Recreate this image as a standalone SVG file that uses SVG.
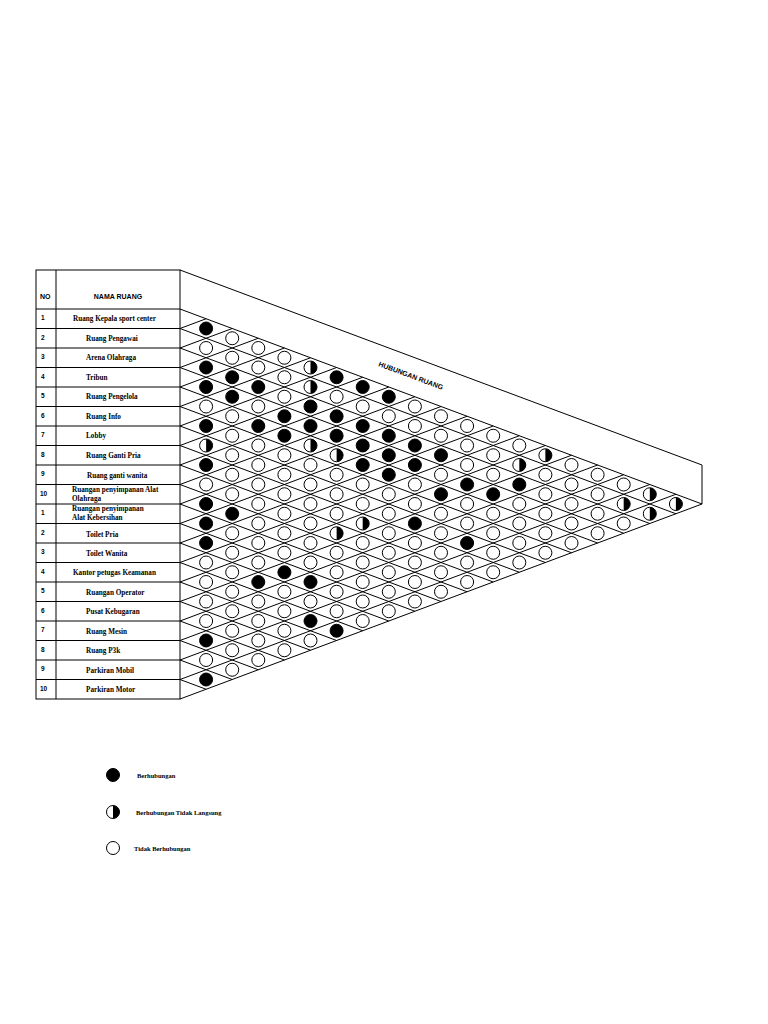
<svg xmlns="http://www.w3.org/2000/svg" xmlns:xlink="http://www.w3.org/1999/xlink" width="768" height="1024" viewBox="0 0 768 1024">
<style>
.ln{stroke:#000;stroke-width:1;fill:none}
.nm{font-family:"Liberation Serif",serif;font-weight:bold;font-size:7.2px}
.no{font-family:"Liberation Sans",sans-serif;font-weight:bold;font-size:6.5px}
.hd{font-family:"Liberation Sans",sans-serif;font-weight:bold;font-size:7px}
</style>
<defs>
<circle id="b" r="6.5" fill="#000" stroke="#000" stroke-width="1"/>
<circle id="w" r="6.5" fill="#fff" stroke="#000" stroke-width="1"/>
<g id="h"><circle r="6.5" fill="#fff" stroke="#000" stroke-width="1"/><path d="M0,-6.5 A6.5,6.5 0 0,1 0,6.5 Z" fill="#000"/></g>
</defs>
<rect width="768" height="1024" fill="#fff"/>
<g id="table">
<rect x="36" y="270" width="144" height="429" class="ln"/>
<line x1="56" y1="270" x2="56" y2="699" class="ln"/>
<path class="ln" d="M36,309H180M36,328.5H180M36,348H180M36,367.5H180M36,387H180M36,406.5H180M36,426H180M36,445.5H180M36,465H180M36,484.5H180M36,504H180M36,523.5H180M36,543H180M36,562.5H180M36,582H180M36,601.5H180M36,621H180M36,640.5H180M36,660H180M36,679.5H180"/>
<text x="40" y="299" class="hd">NO</text>
<text x="118" y="299" class="hd" text-anchor="middle">NAMA RUANG</text>
<g class="no">
<text x="41" y="320">1</text><text x="41" y="339.5">2</text><text x="41" y="359">3</text><text x="41" y="378.5">4</text><text x="41" y="398">5</text><text x="41" y="417.5">6</text><text x="41" y="437">7</text><text x="41" y="456.5">8</text><text x="41" y="476">9</text><text x="40" y="495.5">10</text><text x="41" y="515">1</text><text x="41" y="534.5">2</text><text x="41" y="554">3</text><text x="41" y="573.5">4</text><text x="41" y="593">5</text><text x="41" y="612.5">6</text><text x="41" y="632">7</text><text x="41" y="651.5">8</text><text x="41" y="671">9</text><text x="40" y="690.5">10</text>
</g>
<g class="nm">
<text x="73" y="321">Ruang Kepala sport center</text>
<text x="86" y="340.5">Ruang Pengawai</text>
<text x="86" y="360">Arena Olahraga</text>
<text x="86" y="379.5">Tribun</text>
<text x="86" y="399">Ruang Pengelola</text>
<text x="86" y="418.5">Ruang Info</text>
<text x="86" y="438">Lobby</text>
<text x="86" y="458">Ruang Ganti Pria</text>
<text x="87" y="477.5">Ruang ganti wanita</text>
<text x="72" y="492">Ruangan penyimpanan Alat</text>
<text x="72" y="501">Olahraga</text>
<text x="72" y="511">Ruangan penyimpanan</text>
<text x="72" y="520">Alat Kebersihan</text>
<text x="86" y="537">Toilet Pria</text>
<text x="86" y="555.5">Toilet Wanita</text>
<text x="73" y="575">Kantor petugas Keamanan</text>
<text x="86" y="594.5">Ruangan Operator</text>
<text x="86" y="614">Pusat Kebugaran</text>
<text x="86" y="633.5">Ruang Mesin</text>
<text x="86" y="653">Ruang P3k</text>
<text x="86" y="672.5">Parkiran Mobil</text>
<text x="86" y="692">Parkiran Motor</text>
</g>
</g>
<g id="header">
<path class="ln" d="M180,270L702,465V504"/>
<text x="0" y="0" class="hd" text-anchor="middle" transform="translate(410,378) rotate(20.5)">HUBUNGAN RUANG</text>
</g>
<g id="grid" class="ln">
<path d="M180,309L702,504M180,328.5L675.9,513.75M180,348L649.8,523.5M180,367.5L623.7,533.25M180,387L597.6,543M180,406.5L571.5,552.75M180,426L545.4,562.5M180,445.5L519.3,572.25M180,465L493.2,582M180,484.5L467.1,591.75M180,504L441,601.5M180,523.5L414.9,611.25M180,543L388.8,621M180,562.5L362.7,630.75M180,582L336.6,640.5M180,601.5L310.5,650.25M180,621L284.4,660M180,640.5L258.3,669.75M180,660L232.2,679.5M180,679.5L206.1,689.25"/>
<path d="M180,328.5L206.1,318.75M180,348L232.2,328.5M180,367.5L258.3,338.25M180,387L284.4,348M180,406.5L310.5,357.75M180,426L336.6,367.5M180,445.5L362.7,377.25M180,465L388.8,387M180,484.5L414.9,396.75M180,504L441,406.5M180,523.5L467.1,416.25M180,543L493.2,426M180,562.5L519.3,435.75M180,582L545.4,445.5M180,601.5L571.5,455.25M180,621L597.6,465M180,640.5L623.7,474.75M180,660L649.8,484.5M180,679.5L675.9,494.25M180,699L702,504"/>
</g>
<g id="marks">
<g transform="translate(206.1,0)"><use href="#b" y="328.5"/><use href="#w" y="348"/><use href="#b" y="367.5"/><use href="#b" y="387"/><use href="#w" y="406.5"/><use href="#b" y="426"/><use href="#h" y="445.5"/><use href="#b" y="465"/><use href="#w" y="484.5"/><use href="#b" y="504"/><use href="#b" y="523.5"/><use href="#b" y="543"/><use href="#w" y="562.5"/><use href="#w" y="582"/><use href="#w" y="601.5"/><use href="#w" y="621"/><use href="#b" y="640.5"/><use href="#w" y="660"/><use href="#b" y="679.5"/></g>
<g transform="translate(232.2,0)"><use href="#w" y="338.25"/><use href="#w" y="357.75"/><use href="#b" y="377.25"/><use href="#b" y="396.75"/><use href="#w" y="416.25"/><use href="#w" y="435.75"/><use href="#w" y="455.25"/><use href="#w" y="474.75"/><use href="#w" y="494.25"/><use href="#b" y="513.75"/><use href="#w" y="533.25"/><use href="#w" y="552.75"/><use href="#w" y="572.25"/><use href="#w" y="591.75"/><use href="#w" y="611.25"/><use href="#w" y="630.75"/><use href="#w" y="650.25"/><use href="#w" y="669.75"/></g>
<g transform="translate(258.3,0)"><use href="#w" y="348"/><use href="#w" y="367.5"/><use href="#b" y="387"/><use href="#w" y="406.5"/><use href="#b" y="426"/><use href="#w" y="445.5"/><use href="#w" y="465"/><use href="#w" y="484.5"/><use href="#w" y="504"/><use href="#w" y="523.5"/><use href="#w" y="543"/><use href="#w" y="562.5"/><use href="#b" y="582"/><use href="#w" y="601.5"/><use href="#w" y="621"/><use href="#w" y="640.5"/><use href="#w" y="660"/></g>
<g transform="translate(284.4,0)"><use href="#w" y="357.75"/><use href="#w" y="377.25"/><use href="#w" y="396.75"/><use href="#b" y="416.25"/><use href="#b" y="435.75"/><use href="#w" y="455.25"/><use href="#w" y="474.75"/><use href="#w" y="494.25"/><use href="#w" y="513.75"/><use href="#w" y="533.25"/><use href="#w" y="552.75"/><use href="#b" y="572.25"/><use href="#w" y="591.75"/><use href="#w" y="611.25"/><use href="#w" y="630.75"/><use href="#w" y="650.25"/></g>
<g transform="translate(310.5,0)"><use href="#h" y="367.5"/><use href="#h" y="387"/><use href="#b" y="406.5"/><use href="#b" y="426"/><use href="#h" y="445.5"/><use href="#w" y="465"/><use href="#w" y="484.5"/><use href="#w" y="504"/><use href="#w" y="523.5"/><use href="#w" y="543"/><use href="#w" y="562.5"/><use href="#b" y="582"/><use href="#w" y="601.5"/><use href="#b" y="621"/><use href="#w" y="640.5"/></g>
<g transform="translate(336.6,0)"><use href="#b" y="377.25"/><use href="#w" y="396.75"/><use href="#b" y="416.25"/><use href="#b" y="435.75"/><use href="#h" y="455.25"/><use href="#w" y="474.75"/><use href="#w" y="494.25"/><use href="#w" y="513.75"/><use href="#h" y="533.25"/><use href="#w" y="552.75"/><use href="#w" y="572.25"/><use href="#w" y="591.75"/><use href="#w" y="611.25"/><use href="#b" y="630.75"/></g>
<g transform="translate(362.7,0)"><use href="#b" y="387"/><use href="#w" y="406.5"/><use href="#b" y="426"/><use href="#b" y="445.5"/><use href="#b" y="465"/><use href="#w" y="484.5"/><use href="#w" y="504"/><use href="#h" y="523.5"/><use href="#w" y="543"/><use href="#w" y="562.5"/><use href="#w" y="582"/><use href="#w" y="601.5"/><use href="#w" y="621"/></g>
<g transform="translate(388.8,0)"><use href="#b" y="396.75"/><use href="#w" y="416.25"/><use href="#b" y="435.75"/><use href="#b" y="455.25"/><use href="#b" y="474.75"/><use href="#w" y="494.25"/><use href="#w" y="513.75"/><use href="#w" y="533.25"/><use href="#w" y="552.75"/><use href="#w" y="572.25"/><use href="#w" y="591.75"/><use href="#w" y="611.25"/></g>
<g transform="translate(414.9,0)"><use href="#w" y="406.5"/><use href="#w" y="426"/><use href="#b" y="445.5"/><use href="#b" y="465"/><use href="#w" y="484.5"/><use href="#w" y="504"/><use href="#b" y="523.5"/><use href="#w" y="543"/><use href="#w" y="562.5"/><use href="#w" y="582"/><use href="#w" y="601.5"/></g>
<g transform="translate(441,0)"><use href="#w" y="416.25"/><use href="#w" y="435.75"/><use href="#b" y="455.25"/><use href="#w" y="474.75"/><use href="#b" y="494.25"/><use href="#w" y="513.75"/><use href="#w" y="533.25"/><use href="#w" y="552.75"/><use href="#w" y="572.25"/><use href="#w" y="591.75"/></g>
<g transform="translate(467.1,0)"><use href="#w" y="426"/><use href="#w" y="445.5"/><use href="#w" y="465"/><use href="#b" y="484.5"/><use href="#w" y="504"/><use href="#w" y="523.5"/><use href="#b" y="543"/><use href="#w" y="562.5"/><use href="#w" y="582"/></g>
<g transform="translate(493.2,0)"><use href="#w" y="435.75"/><use href="#w" y="455.25"/><use href="#w" y="474.75"/><use href="#b" y="494.25"/><use href="#w" y="513.75"/><use href="#w" y="533.25"/><use href="#w" y="552.75"/><use href="#w" y="572.25"/></g>
<g transform="translate(519.3,0)"><use href="#w" y="445.5"/><use href="#h" y="465"/><use href="#b" y="484.5"/><use href="#w" y="504"/><use href="#w" y="523.5"/><use href="#w" y="543"/><use href="#w" y="562.5"/></g>
<g transform="translate(545.4,0)"><use href="#h" y="455.25"/><use href="#w" y="474.75"/><use href="#w" y="494.25"/><use href="#w" y="513.75"/><use href="#w" y="533.25"/><use href="#w" y="552.75"/></g>
<g transform="translate(571.5,0)"><use href="#w" y="465"/><use href="#w" y="484.5"/><use href="#w" y="504"/><use href="#w" y="523.5"/><use href="#w" y="543"/></g>
<g transform="translate(597.6,0)"><use href="#w" y="474.75"/><use href="#w" y="494.25"/><use href="#w" y="513.75"/><use href="#w" y="533.25"/></g>
<g transform="translate(623.7,0)"><use href="#w" y="484.5"/><use href="#h" y="504"/><use href="#w" y="523.5"/></g>
<g transform="translate(649.8,0)"><use href="#h" y="494.25"/><use href="#h" y="513.75"/></g>
<g transform="translate(675.9,0)"><use href="#h" y="504"/></g>
</g>
<g id="legend">
<use href="#b" x="113" y="775"/>
<text x="137" y="778" class="nm" style="font-size:6.5px">Berhubungan</text>
<use href="#h" x="113" y="812"/>
<text x="136" y="815" class="nm" style="font-size:6.5px">Berhubungan Tidak Langsung</text>
<use href="#w" x="113" y="848"/>
<text x="134" y="851" class="nm" style="font-size:6.5px">Tidak Berhubungan</text>
</g>
</svg>
